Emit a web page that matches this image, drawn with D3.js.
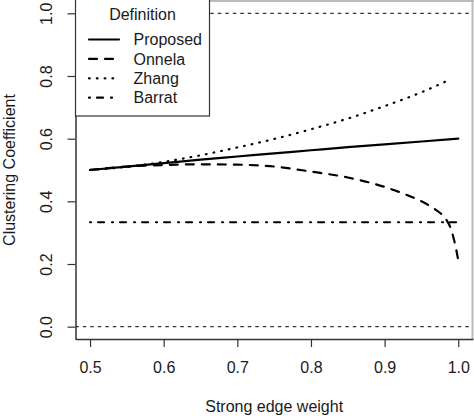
<!DOCTYPE html>
<html>
<head>
<meta charset="utf-8">
<script src="https://cdn.jsdelivr.net/npm/d3@7"></script>
<style>
  body { margin: 0; background: #fff; }
  svg { display: block; font-family: "Liberation Sans", Arial, Helvetica, sans-serif; }
</style>
</head>
<body>
<svg id="chart" width="474" height="416"></svg>
<script>
// ---- data ----
const xTicks = [0.5, 0.6, 0.7, 0.8, 0.9, 1.0];
const yTicks = [0.0, 0.2, 0.4, 0.6, 0.8, 1.0];
const xTickLabels = ["0.5", "0.6", "0.7", "0.8", "0.9", "1.0"];
const yTickLabels = ["0.0", "0.2", "0.4", "0.6", "0.8", "1.0"];

const proposedX = [0.5, 0.55, 0.6, 0.65, 0.7, 0.75, 0.8, 0.85, 0.9, 0.95, 1.0];
const proposedY = [0.500, 0.511, 0.522, 0.533, 0.543, 0.553, 0.563, 0.573, 0.582, 0.591, 0.600];

const onnelaX = [0.5, 0.55, 0.6, 0.65, 0.7, 0.75, 0.8, 0.85, 0.9, 0.925, 0.95, 0.97, 0.98, 0.99, 0.995, 1.0];
const onnelaY = [0.500, 0.511, 0.516, 0.518, 0.517, 0.511, 0.495, 0.476, 0.446, 0.425, 0.400, 0.372, 0.352, 0.312, 0.270, 0.212];

const zhangX = [0.5, 0.55, 0.6, 0.65, 0.7, 0.75, 0.8, 0.85, 0.9, 0.95, 0.99];
const zhangY = [0.500, 0.510, 0.526, 0.547, 0.572, 0.599, 0.630, 0.664, 0.704, 0.748, 0.790];

const barratX = [0.5, 1.0];
const barratY = [0.3333, 0.3333];

const refLines = [0, 1];

const seriesNames = ["Proposed", "Onnela", "Zhang", "Barrat"];
const legendTitle = "Definition";
const xTitle = "Strong edge weight";
const yTitle = "Clustering Coefficient";

// ---- styles ----
const dashes = { Proposed: null, Onnela: "8,8", Zhang: "0.8,7", Barrat: "1,7,6,8" };
const textColor = "#1a1a1a";
const axisColor = "#333";

const svg = d3.select("#chart");

const x = d3.scaleLinear().domain([0.48, 1.02]).range([75.3, 473]);
const y = d3.scaleLinear().domain([-0.04, 1.04]).range([339.2, 0.8]);

// frame (light grey top / right edges)
svg.append("line").attr("x1", 75).attr("x2", 474).attr("y1", 1).attr("y2", 1)
  .attr("stroke", "#bbb").attr("stroke-width", 2);
svg.append("line").attr("x1", 472.5).attr("x2", 472.5).attr("y1", 0).attr("y2", 339)
  .attr("stroke", "#bbb").attr("stroke-width", 2);

// reference dashed lines
svg.selectAll("line.ref").data(refLines).enter().append("line")
  .attr("class", "ref")
  .attr("x1", x.range()[0]).attr("x2", 471)
  .attr("y1", d => y(d)).attr("y2", d => y(d))
  .attr("stroke", "#333").attr("stroke-width", 1.2)
  .attr("stroke-dasharray", "3.5,4");

// series
const series = [
  { name: "Proposed", xs: proposedX, ys: proposedY },
  { name: "Onnela", xs: onnelaX, ys: onnelaY },
  { name: "Zhang", xs: zhangX, ys: zhangY },
  { name: "Barrat", xs: barratX, ys: barratY }
];
const line = d3.line().x(d => x(d[0])).y(d => y(d[1])).curve(d3.curveMonotoneX);
series.forEach(s => {
  const pts = s.xs.map((v, i) => [v, s.ys[i]]);
  svg.append("path").datum(pts)
    .attr("d", line)
    .attr("fill", "none")
    .attr("stroke", "#000")
    .attr("stroke-width", 2.2)
    .attr("stroke-linecap", "round")
    .attr("stroke-linejoin", "round")
    .attr("stroke-dasharray", dashes[s.name]);
});

// axes
const xAxis = d3.axisBottom(x).tickValues(xTicks)
  .tickFormat((d, i) => xTickLabels[i]).tickSize(8).tickSizeOuter(0).tickPadding(15);
const gx = svg.append("g").attr("transform", "translate(0,339)").call(xAxis);
gx.select(".domain").attr("stroke", axisColor).attr("stroke-width", 1.5);
gx.selectAll(".tick line").attr("stroke", axisColor).attr("stroke-width", 1.2);
gx.selectAll(".tick text").attr("fill", textColor).attr("font-size", 16)
  .attr("font-family", "Liberation Sans, Arial, sans-serif");

const yAxis = d3.axisLeft(y).tickValues(yTicks)
  .tickFormat((d, i) => yTickLabels[i]).tickSize(8).tickSizeOuter(0);
const gy = svg.append("g").attr("transform", "translate(75.5,0)").call(yAxis);
gy.select(".domain").attr("stroke", axisColor).attr("stroke-width", 1.5);
gy.selectAll(".tick line").attr("stroke", axisColor).attr("stroke-width", 1.2);
gy.selectAll(".tick text")
  .attr("fill", textColor).attr("font-size", 16)
  .attr("font-family", "Liberation Sans, Arial, sans-serif")
  .attr("x", 0).attr("y", 0).attr("dy", 0)
  .attr("text-anchor", "middle")
  .attr("transform", "translate(-23.5,0) rotate(-90)");

// axis titles
svg.append("text")
  .attr("x", (x.range()[0] + x.range()[1]) / 2).attr("y", 412)
  .attr("text-anchor", "middle").attr("font-size", 16).attr("fill", textColor)
  .text(xTitle);
svg.append("text")
  .attr("transform", `translate(15,${(y.range()[0] + y.range()[1]) / 2}) rotate(-90)`)
  .attr("text-anchor", "middle").attr("font-size", 16).attr("fill", textColor)
  .text(yTitle);

// legend
const lg = svg.append("g");
lg.append("rect").attr("x", 75.5).attr("y", -2).attr("width", 134).attr("height", 118)
  .attr("fill", "#fff").attr("stroke", axisColor).attr("stroke-width", 1.2);
lg.append("text").attr("x", 142.5).attr("y", 20).attr("text-anchor", "middle")
  .attr("font-size", 16).attr("fill", textColor).text(legendTitle);
seriesNames.forEach((n, i) => {
  const yy = 39.5 + i * 19.4;
  lg.append("line").attr("x1", 89).attr("x2", 119).attr("y1", yy).attr("y2", yy)
    .attr("stroke", "#000").attr("stroke-width", 2.2).attr("stroke-linecap", "round")
    .attr("stroke-dasharray", dashes[n]);
  lg.append("text").attr("x", 133.5).attr("y", yy + 5.6)
    .attr("font-size", 16).attr("fill", textColor).text(n);
});
</script>
</body>
</html>
